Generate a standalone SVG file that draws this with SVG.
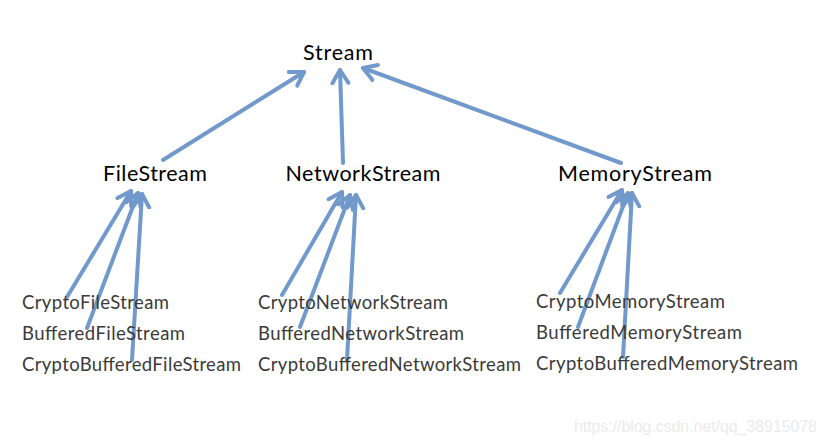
<svg xmlns="http://www.w3.org/2000/svg" width="826" height="446" viewBox="0 0 826 446">
<style>
.top{font-family:Lato,"Liberation Sans",Arial,sans-serif;font-size:21.5px;fill:#000}
.leaf{font-family:Lato,"Liberation Sans",Arial,sans-serif;font-size:18.5px;fill:#3a3a3a}
.wm{font-family:"Liberation Sans",Arial,sans-serif;font-size:16px;fill:#ebebeb}
.c line{stroke:#7199cc;stroke-width:4;stroke-linecap:round;marker-end:url(#ah)}
</style>
<defs>
<marker id="ah" markerUnits="userSpaceOnUse" markerWidth="30" markerHeight="30" refX="0" refY="0" viewBox="-15 -15 30 30" orient="auto">
<path d="M-13,-8 L0,0 L-13,8" fill="none" stroke="#7199cc" stroke-width="4" stroke-linecap="round" stroke-linejoin="round"/>
</marker>
</defs>
<rect width="826" height="446" fill="#fff"/>
<g class="c" id="connectors">
<line x1="163" y1="160" x2="304" y2="72"/>
<line x1="343" y1="163" x2="340" y2="70"/>
<line x1="621" y1="163" x2="363" y2="68"/>
<line x1="67" y1="297" x2="131" y2="191"/>
<line x1="87" y1="328" x2="138" y2="193"/>
<line x1="132" y1="360" x2="142" y2="194"/>
<line x1="282" y1="295" x2="342" y2="192"/>
<line x1="300" y1="327" x2="350" y2="195"/>
<line x1="347" y1="360" x2="356" y2="195"/>
<line x1="560" y1="293" x2="622" y2="190"/>
<line x1="578" y1="327" x2="628" y2="193"/>
<line x1="623" y1="357" x2="632" y2="193"/>
</g>
<g id="stream"><text class="top" x="338" y="60" text-anchor="middle" textLength="70">Stream</text></g>
<g id="filestream"><text class="top" x="155" y="181" text-anchor="middle" textLength="104">FileStream</text></g>
<g id="networkstream"><text class="top" x="363" y="181" text-anchor="middle" textLength="155">NetworkStream</text></g>
<g id="memorystream"><text class="top" x="635" y="181" text-anchor="middle" textLength="154">MemoryStream</text></g>
<g id="cryptofilestream"><text class="leaf" x="22" y="309" textLength="147">CryptoFileStream</text></g>
<g id="bufferedfilestream"><text class="leaf" x="22" y="340" textLength="163">BufferedFileStream</text></g>
<g id="cryptobufferedfilestream"><text class="leaf" x="22" y="371" textLength="219">CryptoBufferedFileStream</text></g>
<g id="cryptonetworkstream"><text class="leaf" x="258" y="309" textLength="190">CryptoNetworkStream</text></g>
<g id="bufferednetworkstream"><text class="leaf" x="258" y="340" textLength="206">BufferedNetworkStream</text></g>
<g id="cryptobufferednetworkstream"><text class="leaf" x="258" y="371" textLength="263">CryptoBufferedNetworkStream</text></g>
<g id="cryptomemorystream"><text class="leaf" x="536" y="308" textLength="189">CryptoMemoryStream</text></g>
<g id="bufferedmemorystream"><text class="leaf" x="536" y="339" textLength="206">BufferedMemoryStream</text></g>
<g id="cryptobufferedmemorystream"><text class="leaf" x="536" y="370" textLength="262">CryptoBufferedMemoryStream</text></g>
<text class="wm" x="574" y="432" textLength="243">https://blog.csdn.net/qq_38915078</text>
</svg>
